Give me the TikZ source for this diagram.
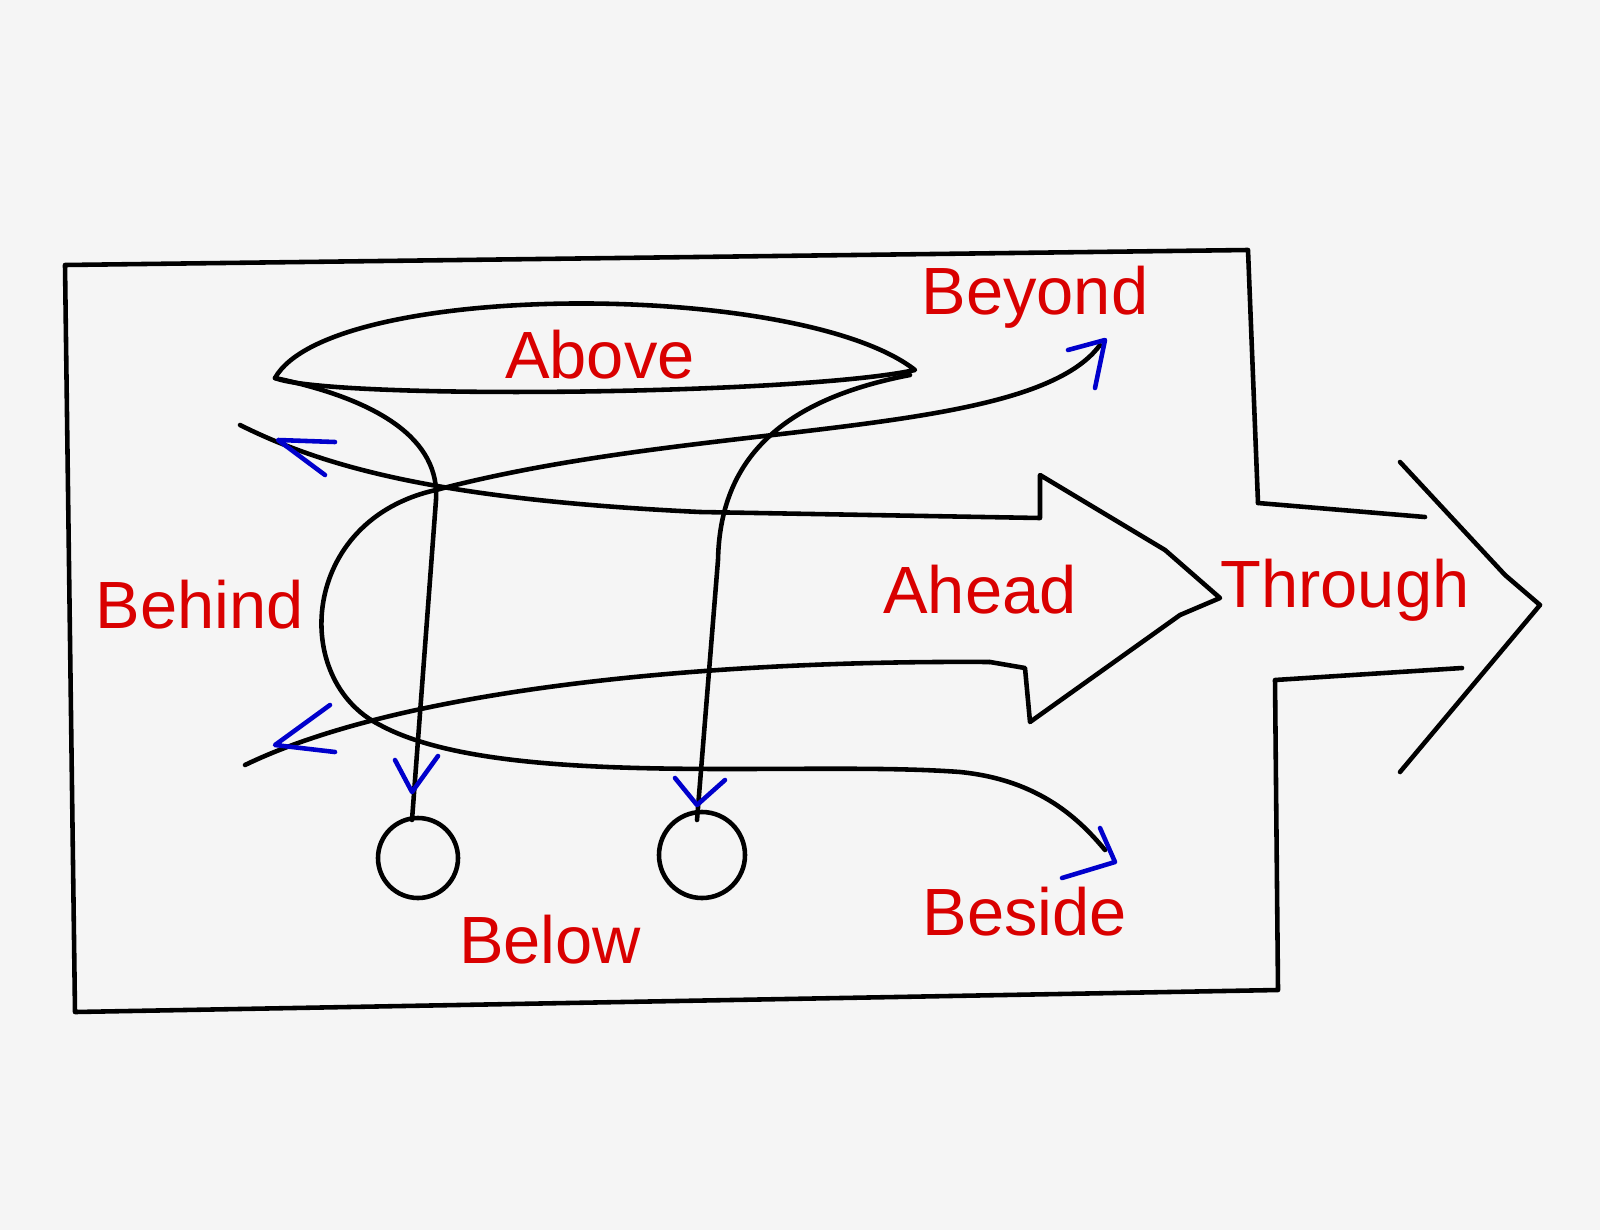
\documentclass[tikz,border=0pt]{standalone}
\usepackage{fontspec}
\setmainfont{Liberation Sans}
\begin{document}
\begin{tikzpicture}[x=0.01cm,y=-0.01cm,
  ink/.style={line width=1.3pt,black,line cap=round,line join=round},
  blu/.style={line width=1.3pt,blue!80!black,line cap=round,line join=round},
  lab/.style={text=red!85!black,font=\fontsize{19}{21}\selectfont}]
\fill[gray!8] (0,0) rectangle (1600,1230);
\useasboundingbox (0,0) rectangle (1600,1230);
% frame
\draw[ink] (1258,503) -- (1248,250) -- (65,265) -- (75,1012) -- (1278,990) -- (1275,680) -- (1462,668);
\draw[ink] (1258,503) -- (1425,517);
\draw[ink] (1400,462) -- (1505,575) -- (1540,605) -- (1400,772);
% funnel
\draw[ink] (275,378) .. controls (330,280) and (800,280) .. (915,370)
  .. controls (800,395) and (330,400) .. (275,378);
\draw[ink] (275,378) .. controls (380,400) and (440,440) .. (436,500) -- (412,820);
\draw[ink] (910,375) .. controls (780,400) and (720,460) .. (718,560) -- (697,820);
\draw[ink] (418,858) circle (40);
\draw[ink] (702,855) circle (43);
\draw[blu] (395,760) -- (412,792) -- (438,756);
\draw[blu] (675,778) -- (697,805) -- (725,780);
% ahead arrow
\draw[ink] (240,425) .. controls (330,470) and (450,500) .. (700,512) -- (1040,518) -- (1040,475)
  -- (1165,550) -- (1220,598) -- (1180,615) -- (1030,722) -- (1025,668) -- (990,662);
\draw[ink] (245,765) .. controls (400,690) and (700,660) .. (990,662);
\draw[blu] (325,475) -- (278,440) -- (335,442);
\draw[blu] (330,705) -- (275,745) -- (335,752);
% beyond / behind / beside loop
\draw[ink] (1100,345) .. controls (1030,440) and (700,420) .. (436,490)
  .. controls (300,520) and (290,680) .. (380,725)
  .. controls (500,790) and (800,760) .. (960,772)
  .. controls (1040,780) and (1080,820) .. (1105,850);
\draw[blu] (1068,350) -- (1105,340) -- (1095,388);
\draw[blu] (1062,878) -- (1115,862) -- (1100,828);
% labels
\node[lab] (above) at (600,355) {Above};
\node[lab] (beyond) at (1035,297) {Beyond};
\node[lab] (behind) at (200,605) {Behind};
\node[lab] (ahead) at (980,590) {Ahead};
\node[lab] (through) at (1345,590) {Through};
\node[lab] (below) at (550,940) {Below};
\node[lab] (beside) at (1025,912) {Beside};
\end{tikzpicture}
\end{document}
